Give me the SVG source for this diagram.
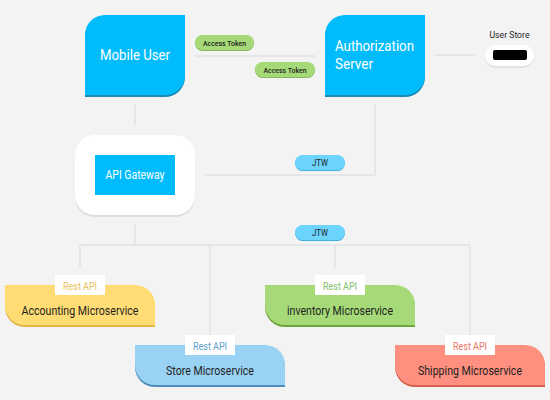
<svg xmlns="http://www.w3.org/2000/svg" width="550" height="400" viewBox="0 0 550 400">
<defs>
<style>
.bg{fill:#f3f3f3}
.ln{stroke:#e6e6e6;stroke-width:2;fill:none}
.t{font-family:Roboto,"Liberation Sans",sans-serif}
.wt{fill:#ffffff}
.dk{fill:#1f1f1f}
.lbl{fill:#ffffff}
</style>
</defs>
<rect class="bg" x="0" y="0" width="550" height="400"/>
<g id="connectors">
<line class="ln" x1="195" y1="56" x2="315" y2="56"/>
<line class="ln" x1="435" y1="55" x2="475" y2="55"/>
<line class="ln" x1="135" y1="105" x2="135" y2="125"/>
<polyline class="ln" points="205,175 375,175 375,105"/>
<line class="ln" x1="135" y1="225" x2="135" y2="245"/>
<line class="ln" x1="80" y1="245" x2="470" y2="245"/>
<line class="ln" x1="80" y1="245" x2="80" y2="268"/>
<line class="ln" x1="210" y1="245" x2="210" y2="345"/>
<line class="ln" x1="335" y1="245" x2="335" y2="268"/>
<line class="ln" x1="470" y1="245" x2="470" y2="345"/>
<g id="access-token-1">
<rect x="195" y="36" width="59" height="15" rx="7.5" fill="#85b85a"/>
<rect x="195" y="35" width="59" height="15" rx="7.5" fill="#a6da78"/>
<text class="t dk" x="224.5" y="45.5" font-size="7.5" font-weight="500" text-anchor="middle" textLength="43" lengthAdjust="spacingAndGlyphs">Access Token</text>
</g>
<g id="access-token-2">
<rect x="255" y="63" width="60" height="15" rx="7.5" fill="#85b85a"/>
<rect x="255" y="62" width="60" height="15" rx="7.5" fill="#a6da78"/>
<text class="t dk" x="285" y="72.5" font-size="7.5" font-weight="500" text-anchor="middle" textLength="43" lengthAdjust="spacingAndGlyphs">Access Token</text>
</g>
<g id="jtw-1">
<rect x="295" y="156" width="50" height="15" rx="7.5" fill="#3fb0e0"/>
<rect x="295" y="155" width="50" height="15" rx="7.5" fill="#6cd4fd"/>
<text class="t dk" x="320" y="166" font-size="8.5" text-anchor="middle" textLength="16" lengthAdjust="spacingAndGlyphs">JTW</text>
</g>
<g id="jtw-2">
<rect x="295" y="226" width="50" height="15" rx="7.5" fill="#3fb0e0"/>
<rect x="295" y="225" width="50" height="15" rx="7.5" fill="#6cd4fd"/>
<text class="t dk" x="320" y="236" font-size="8.5" text-anchor="middle" textLength="16" lengthAdjust="spacingAndGlyphs">JTW</text>
</g>
</g>
<g id="mobile-user">
<path d="M85,37 A20,20 0 0 1 105,17 L185,17 L185,77 A20,20 0 0 1 165,97 L85,97 Z" fill="#1d8ab5"/>
<path d="M85,35 A20,20 0 0 1 105,15 L185,15 L185,75 A20,20 0 0 1 165,95 L85,95 Z" fill="#00bcfd"/>
<text class="t wt" x="135" y="60" font-size="14" text-anchor="middle" textLength="70" lengthAdjust="spacingAndGlyphs">Mobile User</text>
</g>
<g id="authorization-server">
<path d="M325,37 A20,20 0 0 1 345,17 L425,17 L425,77 A20,20 0 0 1 405,97 L325,97 Z" fill="#1d8ab5"/>
<path d="M325,35 A20,20 0 0 1 345,15 L425,15 L425,75 A20,20 0 0 1 405,95 L325,95 Z" fill="#00bcfd"/>
<text class="t wt" x="335" y="51" font-size="14" textLength="79" lengthAdjust="spacingAndGlyphs">Authorization</text>
<text class="t wt" x="335" y="69" font-size="14" textLength="38" lengthAdjust="spacingAndGlyphs">Server</text>
</g>
<g id="user-store">
<text class="t dk" x="509.5" y="38" font-size="9" text-anchor="middle" textLength="40" lengthAdjust="spacingAndGlyphs">User Store</text>
<rect x="485" y="46" width="49" height="22" rx="11" fill="#e2e2e2"/>
<rect x="485" y="45" width="49" height="21" rx="10.5" fill="#ffffff"/>
<rect x="493" y="50" width="34" height="10" rx="2" fill="#000000"/>
</g>
<g id="api-gateway">
<rect x="75" y="137" width="120" height="80" rx="20" fill="#dedede"/>
<rect x="75" y="135" width="120" height="80" rx="20" fill="#ffffff"/>
<rect x="95" y="155" width="80" height="40" fill="#00bcfd"/>
<text class="t wt" x="135" y="179" font-size="12" text-anchor="middle" textLength="59" lengthAdjust="spacingAndGlyphs">API Gateway</text>
</g>
<g id="accounting-microservice">
<path d="M5,287 L135,287 A20,20 0 0 1 155,307 L155,327 L25,327 A20,20 0 0 1 5,307 Z" fill="#e3b545"/>
<path d="M5,285 L135,285 A20,20 0 0 1 155,305 L155,325 L25,325 A20,20 0 0 1 5,305 Z" fill="#ffdd74"/>
<rect class="lbl" x="55" y="275" width="50" height="20"/>
<text class="t" x="80" y="289.5" font-size="10" text-anchor="middle" fill="#e6c25c" textLength="34" lengthAdjust="spacingAndGlyphs">Rest API</text>
<text class="t dk" x="80" y="314.5" font-size="12" text-anchor="middle" textLength="117" lengthAdjust="spacingAndGlyphs">Accounting Microservice</text>
</g>
<g id="inventory-microservice">
<path d="M265,287 L395,287 A20,20 0 0 1 415,307 L415,327 L285,327 A20,20 0 0 1 265,307 Z" fill="#6ea63c"/>
<path d="M265,285 L395,285 A20,20 0 0 1 415,305 L415,325 L285,325 A20,20 0 0 1 265,305 Z" fill="#a6da78"/>
<rect class="lbl" x="315" y="275" width="50" height="20"/>
<text class="t" x="340" y="289.5" font-size="10" text-anchor="middle" fill="#80c06a" textLength="34" lengthAdjust="spacingAndGlyphs">Rest API</text>
<text class="t dk" x="340" y="314.5" font-size="12" text-anchor="middle" textLength="106" lengthAdjust="spacingAndGlyphs">inventory Microservice</text>
</g>
<g id="store-microservice">
<path d="M135,347 L265,347 A20,20 0 0 1 285,367 L285,387 L155,387 A20,20 0 0 1 135,367 Z" fill="#4a8dba"/>
<path d="M135,345 L265,345 A20,20 0 0 1 285,365 L285,385 L155,385 A20,20 0 0 1 135,365 Z" fill="#9ad2f3"/>
<rect class="lbl" x="185" y="335" width="50" height="20"/>
<text class="t" x="210" y="349.5" font-size="10" text-anchor="middle" fill="#5b9fcb" textLength="34" lengthAdjust="spacingAndGlyphs">Rest API</text>
<text class="t dk" x="210" y="374.5" font-size="12" text-anchor="middle" textLength="88" lengthAdjust="spacingAndGlyphs">Store Microservice</text>
</g>
<g id="shipping-microservice">
<path d="M395,347 L525,347 A20,20 0 0 1 545,367 L545,387 L415,387 A20,20 0 0 1 395,367 Z" fill="#d8604e"/>
<path d="M395,345 L525,345 A20,20 0 0 1 545,365 L545,385 L415,385 A20,20 0 0 1 395,365 Z" fill="#ff8f7f"/>
<rect class="lbl" x="445" y="335" width="50" height="20"/>
<text class="t" x="470" y="349.5" font-size="10" text-anchor="middle" fill="#e8735f" textLength="34" lengthAdjust="spacingAndGlyphs">Rest API</text>
<text class="t dk" x="470" y="374.5" font-size="12" text-anchor="middle" textLength="104" lengthAdjust="spacingAndGlyphs">Shipping Microservice</text>
</g>
</svg>
